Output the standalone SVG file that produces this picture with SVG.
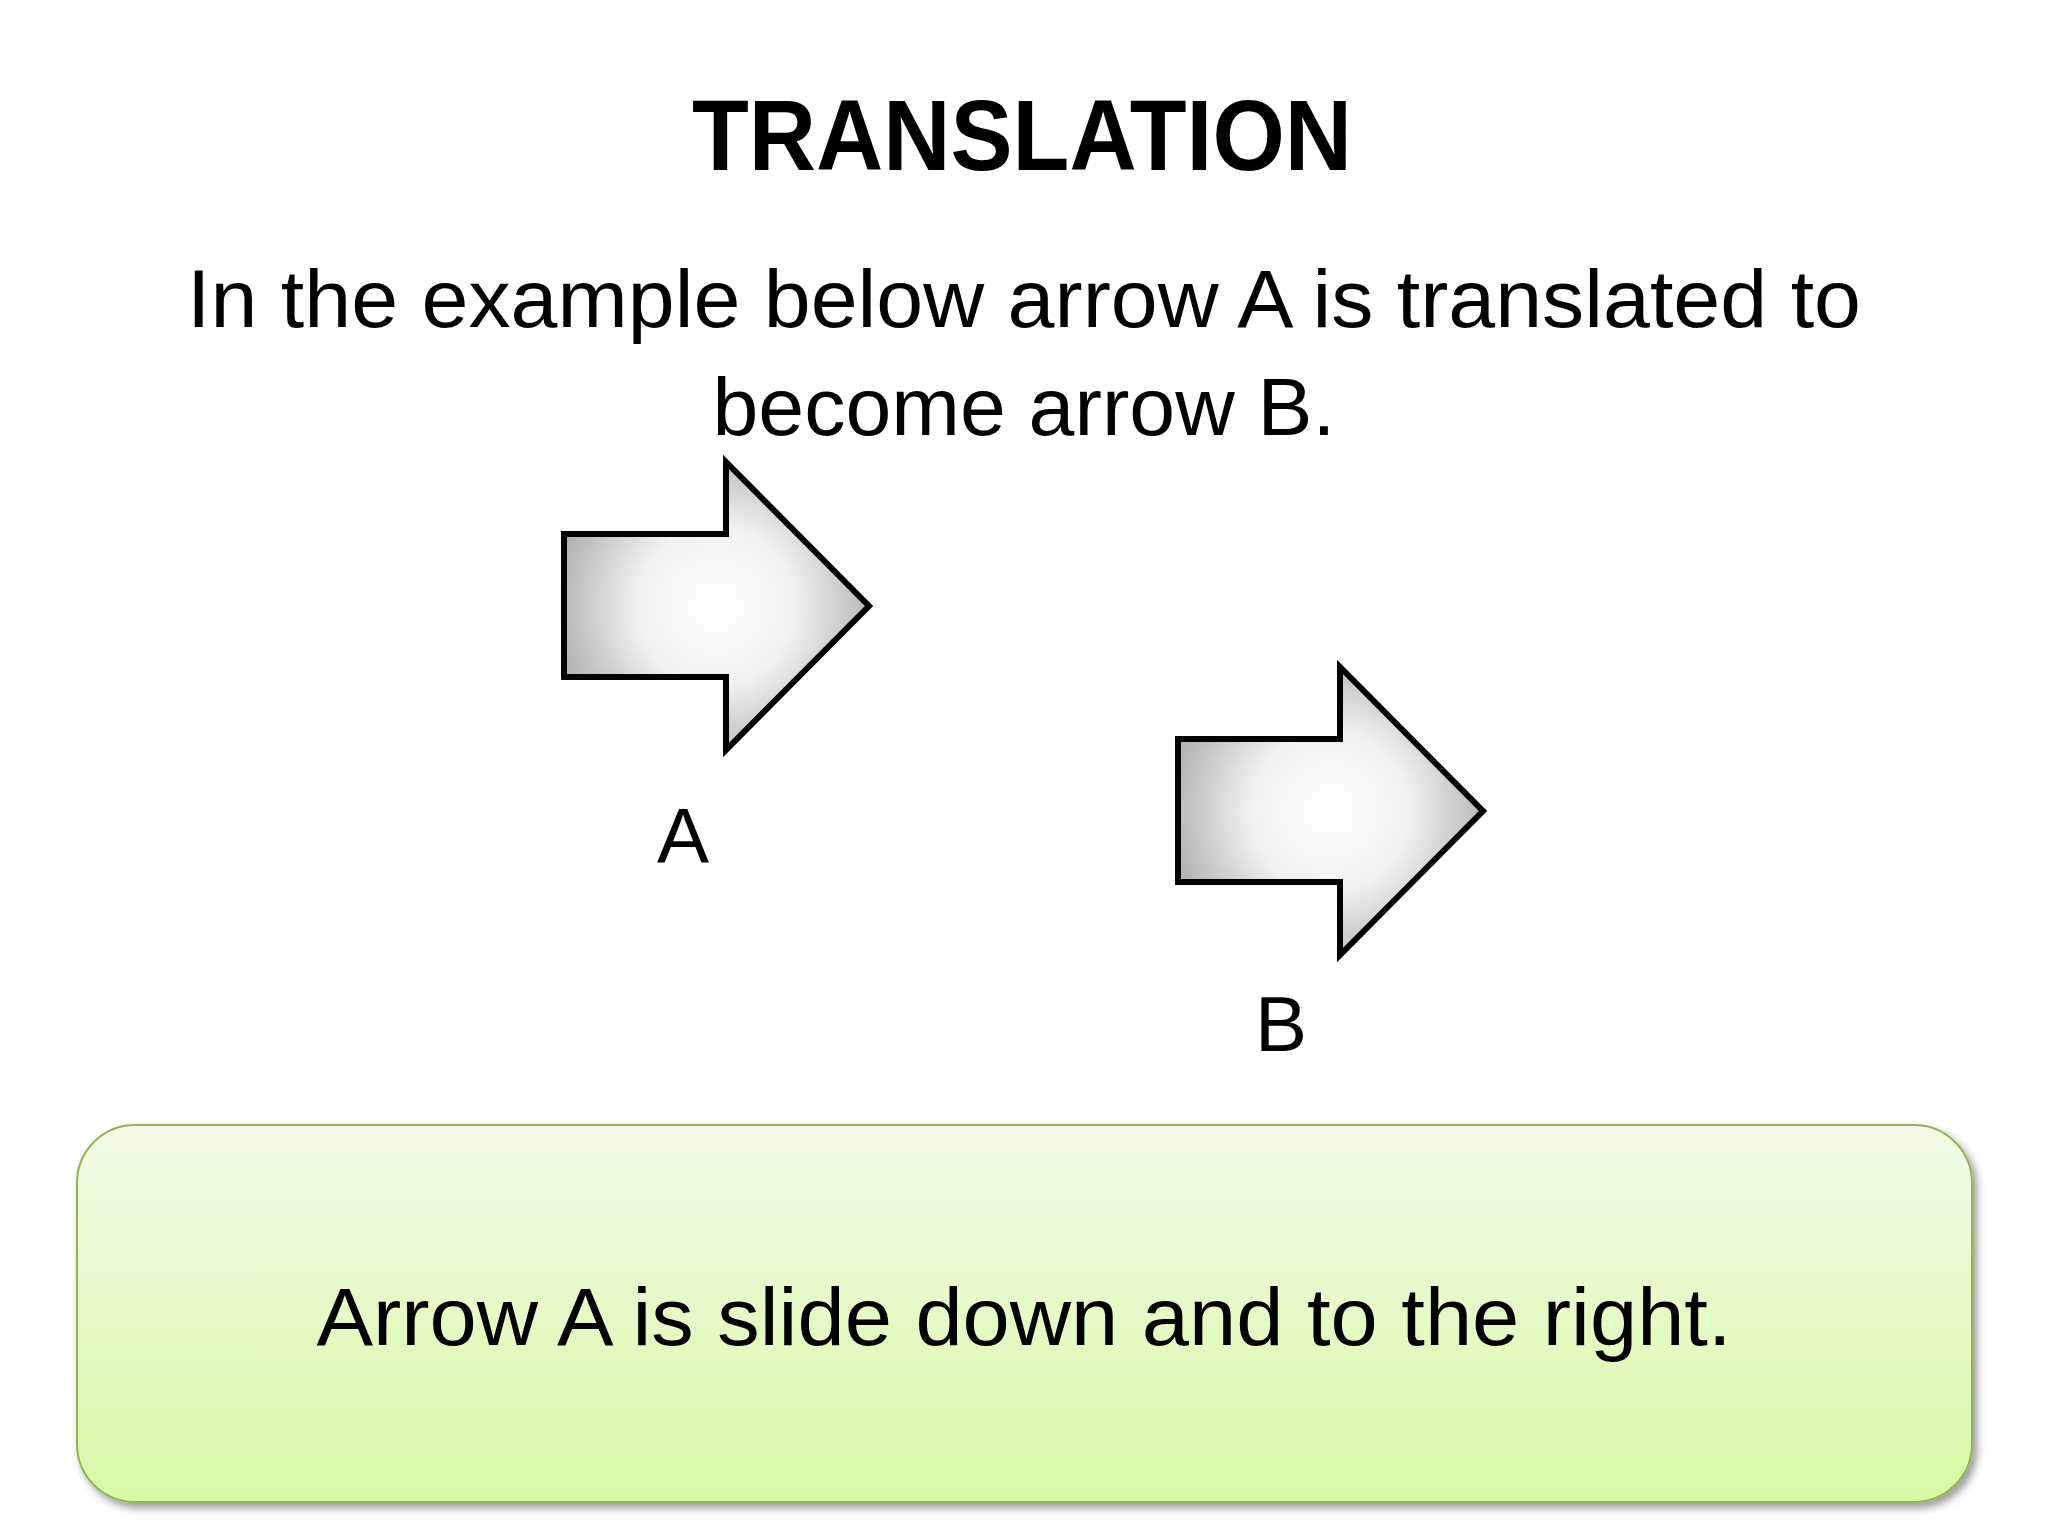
<svg xmlns="http://www.w3.org/2000/svg" width="2048" height="1536" viewBox="0 0 2048 1536">
  <style>
    .txt { font-family: "Liberation Sans", Arial, sans-serif; fill: #000; }
    .title { font-weight: bold; font-size: 100px; }
    .body { font-size: 82px; }
    .label { font-size: 78px; }
    .arrow { stroke: #000; stroke-width: 6; stroke-linejoin: miter; }
  </style>
  <defs>
    <radialGradient id="gradA" gradientUnits="userSpaceOnUse" cx="716" cy="606" r="175" fx="716" fy="606">
      <stop offset="0" stop-color="#ffffff"/>
      <stop offset="0.45" stop-color="#f2f2f2"/>
      <stop offset="1" stop-color="#a8a8a8"/>
    </radialGradient>
    <radialGradient id="gradB" gradientUnits="userSpaceOnUse" cx="1330" cy="811" r="175" fx="1330" fy="811">
      <stop offset="0" stop-color="#ffffff"/>
      <stop offset="0.45" stop-color="#f2f2f2"/>
      <stop offset="1" stop-color="#a8a8a8"/>
    </radialGradient>
    <linearGradient id="gradBox" x1="0" y1="0" x2="0" y2="1">
      <stop offset="0" stop-color="#f3fbe8"/>
      <stop offset="1" stop-color="#d8f9a5"/>
    </linearGradient>
    <filter id="shadow" x="-5%" y="-10%" width="110%" height="125%">
      <feDropShadow dx="4" dy="5" stdDeviation="4" flood-color="#000" flood-opacity="0.4"/>
    </filter>
  </defs>

  <g id="title">
    <text class="txt title" x="1022" y="170" text-anchor="middle" textLength="660" lengthAdjust="spacingAndGlyphs">TRANSLATION</text>
  </g>

  <g id="intro">
    <text class="txt body" x="1024" y="327" text-anchor="middle" textLength="1674" lengthAdjust="spacingAndGlyphs">In the example below arrow A is translated to</text>
    <text class="txt body" x="1024" y="435" text-anchor="middle" textLength="623" lengthAdjust="spacingAndGlyphs">become arrow B.</text>
  </g>

  <g id="arrowA">
    <polygon class="arrow" fill="url(#gradA)" points="564,534 726,534 726,462 869,606 726,750 726,677 564,677"/>
    <text class="txt label" x="683" y="863" text-anchor="middle">A</text>
  </g>

  <g id="arrowB">
    <polygon class="arrow" fill="url(#gradB)" points="1178,739 1340,739 1340,667 1483,811 1340,955 1340,882 1178,882"/>
    <text class="txt label" x="1281" y="1051" text-anchor="middle">B</text>
  </g>

  <g id="connectors"></g>

  <g id="summary">
    <rect x="77" y="1125" width="1895" height="377" rx="58" ry="58" fill="url(#gradBox)" stroke="#93b456" stroke-width="2" filter="url(#shadow)"/>
    <text class="txt body" x="1024" y="1345" text-anchor="middle" textLength="1415" lengthAdjust="spacingAndGlyphs">Arrow A is slide down and to the right.</text>
  </g>
</svg>
